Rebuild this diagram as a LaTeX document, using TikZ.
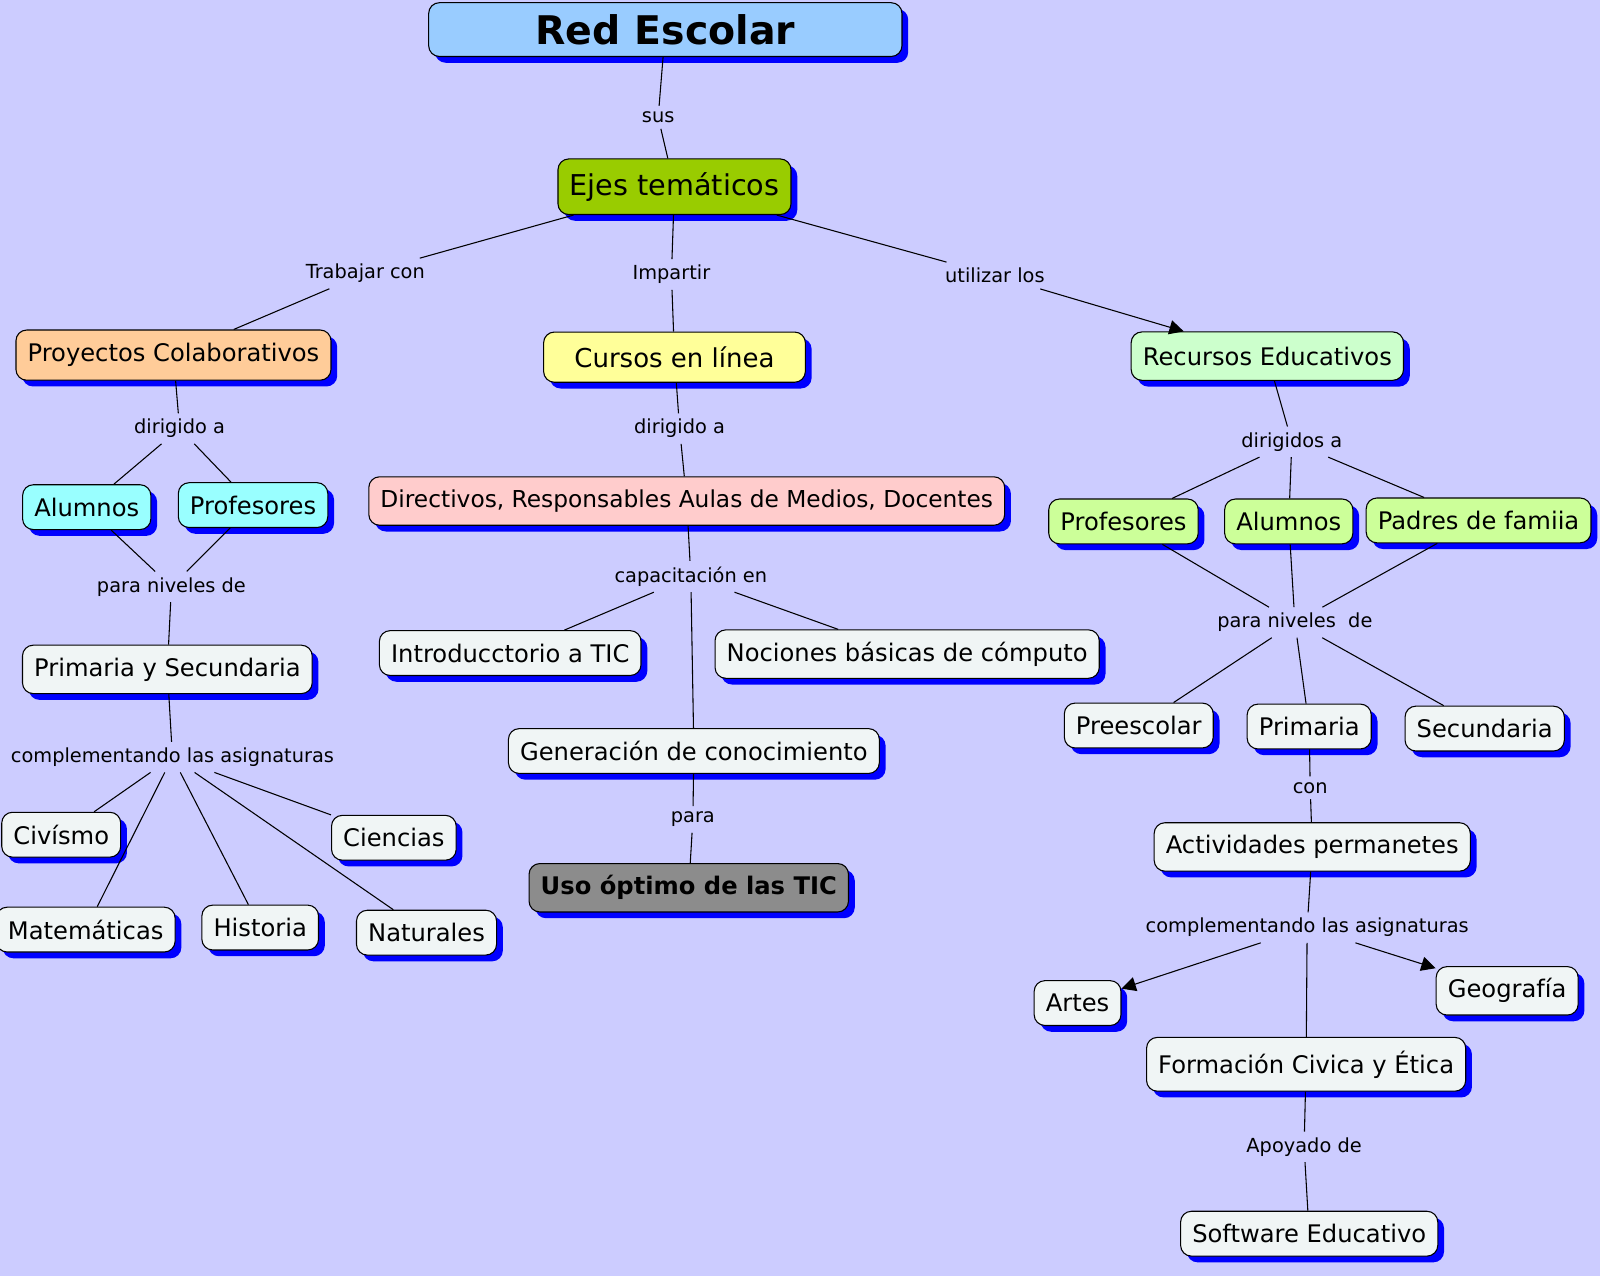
\documentclass[tikz,border=0pt]{standalone}
\usepackage{fontspec}
\setmainfont{DejaVu Sans}
\usetikzlibrary{shadows,arrows.meta}
\definecolor{fondo}{rgb}{0.8,0.8,1}
\definecolor{hoja}{rgb}{0.94,0.96,0.96}
\begin{document}
\begin{tikzpicture}[x=0.02cm,y=-0.02cm,
			concepto/.style={rectangle, rounded corners=6pt, draw=black, fill=hoja, font=\fontsize{13.5}{15}\selectfont, minimum height=25pt, inner xsep=6.5pt, drop shadow={shadow xshift=3.5pt, shadow yshift=-3.5pt, fill=blue, opacity=1}},
			enlace/.style={font=\fontsize{10.8}{12}\selectfont, inner sep=3pt},
			every path/.style={line width=0.6pt},
			flecha/.style={-{Triangle[length=8pt,width=8pt]}},
			]
			\fill[fondo] (0,0) rectangle (1568,1250);
			\useasboundingbox (0,0) rectangle (1568,1250);
			%Conceptos
			\node[concepto, fill={rgb,1:red,0.6;green,0.8;blue,1}, font=\bfseries\fontsize{22}{24}\selectfont, minimum width=264pt, minimum height=30pt] (red) at (652,29) {Red Escolar};
			\node[concepto, fill={rgb,1:red,0.6;green,0.8;blue,0}, font=\fontsize{16}{18}\selectfont, minimum height=31pt] (ejes) at (661,183) {Ejes temáticos};
			\node[concepto, fill={rgb,1:red,1;green,0.8;blue,0.6}, minimum height=28pt] (proyectos) at (170,348) {Proyectos Colaborativos};
			\node[concepto, fill={rgb,1:red,1;green,1;blue,0.6}, font=\fontsize{14.5}{16}\selectfont, minimum width=146pt, minimum height=28pt] (cursos) at (661,350) {Cursos en línea};
			\node[concepto, fill={rgb,1:red,0.8;green,1;blue,0.8}, minimum height=27pt] (recursos) at (1242,349) {Recursos Educativos};
			\node[concepto, fill={rgb,1:red,0.6;green,1;blue,1}] (alumnos1) at (85,497) {Alumnos};
			\node[concepto, fill={rgb,1:red,0.6;green,1;blue,1}] (profesores1) at (248,495) {Profesores};
			\node[concepto, fill={rgb,1:red,1;green,0.8;blue,0.8}, font=\fontsize{13}{15}\selectfont, minimum height=27pt] (directivos) at (673,491) {Directivos, Responsables Aulas de Medios, Docentes};
			\node[concepto, fill={rgb,1:red,0.8;green,1;blue,0.6}] (profesores2) at (1101,511) {Profesores};
			\node[concepto, fill={rgb,1:red,0.8;green,1;blue,0.6}] (alumnos2) at (1263,511) {Alumnos};
			\node[concepto, fill={rgb,1:red,0.8;green,1;blue,0.6}] (padres) at (1449,510) {Padres de famiia};
			\node[concepto, minimum height=27pt] (primsec) at (164,656) {Primaria y Secundaria};
			\node[concepto] (intro) at (500,640) {Introducctorio a TIC};
			\node[concepto, minimum height=27pt] (nociones) at (889,641) {Nociones básicas de cómputo};
			\node[concepto] (generacion) at (680,736) {Generación de conocimiento};
			\node[concepto, fill={rgb,1:red,0.55;green,0.55;blue,0.55}, font=\bfseries\fontsize{13.5}{15}\selectfont, minimum width=171pt, minimum height=27pt] (uso) at (675,870) {Uso óptimo de las TIC};
			\node[concepto] (preescolar) at (1116,711) {Preescolar};
			\node[concepto] (primaria) at (1283,712) {Primaria};
			\node[concepto] (secundaria) at (1455,714) {Secundaria};
			\node[concepto, minimum height=27pt] (actividades) at (1286,830) {Actividades permanetes};
			\node[concepto] (civismo) at (60,818) {Civísmo};
			\node[concepto] (ciencias) at (386,821) {Ciencias};
			\node[concepto] (matematicas) at (84,911) {Matemáticas};
			\node[concepto] (historia) at (255,909) {Historia};
			\node[concepto] (naturales) at (418,914) {Naturales};
			\node[concepto] (artes) at (1056,983) {Artes};
			\node[concepto, minimum height=27pt] (geografia) at (1477,971) {Geografía};
			\node[concepto, minimum height=30pt] (formacion) at (1280,1043) {Formación Civica y Ética};
			\node[concepto] (software) at (1283,1209) {Software Educativo};

			%Enlaces
			\node[enlace] (sus) at (645,115) {sus};
			\node[enlace] (trabajar) at (358,268) {Trabajar con};
			\node[enlace] (impartir) at (658,269) {Impartir};
			\node[enlace] (utilizar) at (975,270) {utilizar los};
			\node[enlace] (dirigido1) at (176,420) {dirigido a};
			\node[enlace] (dirigido2) at (666,420) {dirigido a};
			\node[enlace] (dirigidos) at (1266,433) {dirigidos a};
			\node[enlace] (niveles1) at (168,575) {para niveles de};
			\node[enlace] (capacitacion) at (677,565) {capacitación en};
			\node[enlace] (niveles2) at (1269,610) {para niveles\ \ de};
			\node[enlace] (complementando1) at (169,742) {complementando las asignaturas};
			\node[enlace] (para) at (679,803) {para};
			\node[enlace] (con) at (1284,772) {con};
			\node[enlace] (complementando2) at (1281,909) {complementando las asignaturas};
			\node[enlace] (apoyado) at (1278,1124) {Apoyado de};

			%Conectores
			\draw (red) -- (sus) -- (ejes);
			\draw (ejes) -- (trabajar) -- (proyectos);
			\draw (ejes) -- (impartir) -- (cursos);
			\draw (ejes) -- (utilizar);
			\draw[flecha] (utilizar) -- (recursos);
			\draw (proyectos) -- (dirigido1);
			\draw (dirigido1) -- (alumnos1);
			\draw (dirigido1) -- (profesores1);
			\draw (alumnos1) -- (niveles1);
			\draw (profesores1) -- (niveles1);
			\draw (niveles1) -- (primsec) -- (complementando1);
			\foreach \a in {civismo,ciencias,matematicas,historia,naturales}
				\draw (complementando1) -- (\a);
			\draw (cursos) -- (dirigido2) -- (directivos) -- (capacitacion);
			\foreach \a in {intro,nociones,generacion}
				\draw (capacitacion) -- (\a);
			\draw (generacion) -- (para) -- (uso);
			\draw (recursos) -- (dirigidos);
			\foreach \a in {profesores2,alumnos2,padres}
				\draw (dirigidos) -- (\a) -- (niveles2);
			\foreach \a in {preescolar,primaria,secundaria}
				\draw (niveles2) -- (\a);
			\draw (primaria) -- (con) -- (actividades) -- (complementando2);
			\draw[flecha] (complementando2) -- (artes);
			\draw[flecha] (complementando2) -- (geografia);
			\draw (complementando2) -- (formacion) -- (apoyado) -- (software);
		\end{tikzpicture}
\end{document}
